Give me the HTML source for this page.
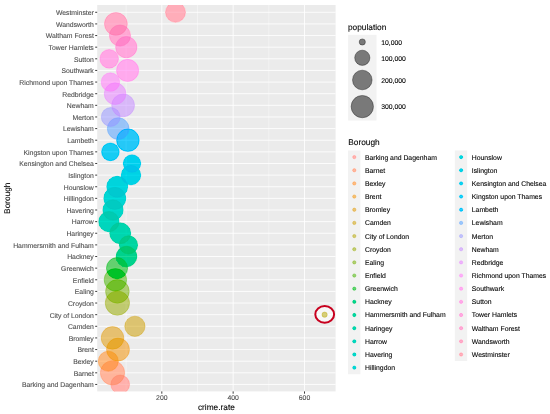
<!DOCTYPE html><html><head><meta charset="utf-8"><style>html,body{margin:0;padding:0;background:#fff;}svg{display:block;}text{font-family:"Liberation Sans",Arial,sans-serif;text-rendering:geometricPrecision;}.ax{font-size:6.85px;fill:#4D4D4D;stroke:#4D4D4D;stroke-width:0.1px}.lt{font-size:6.85px;fill:#000;stroke:#000;stroke-width:0.1px}.ti{font-size:8.3px;fill:#000;stroke:#000;stroke-width:0.1px}</style></head><body>
<svg width="550" height="414" viewBox="0 0 550 414">
<rect width="550" height="414" fill="#fff"/>
<defs><filter id="adobe" x="0" y="0" width="550" height="414" filterUnits="userSpaceOnUse" color-interpolation-filters="linearRGB"><feColorMatrix type="matrix" values="1.3982 -0.3982 0 0 0  0 1 0 0 0  0 -0.0429 1.0429 0 0  0 0 0 1 0"/></filter></defs>
<g filter="url(#adobe)">
<defs><clipPath id="pc"><rect x="97.2" y="5.0" width="238.40" height="386.40"/></clipPath></defs>
<rect x="97.2" y="5.0" width="238.40" height="386.40" fill="#EBEBEB"/>
<line x1="126.12" y1="5.0" x2="126.12" y2="391.4" stroke="#fff" stroke-width="0.4"/>
<line x1="197.48" y1="5.0" x2="197.48" y2="391.4" stroke="#fff" stroke-width="0.4"/>
<line x1="268.82" y1="5.0" x2="268.82" y2="391.4" stroke="#fff" stroke-width="0.4"/>
<line x1="97.2" y1="384.45" x2="335.6" y2="384.45" stroke="#fff" stroke-width="0.85"/>
<line x1="97.2" y1="372.82" x2="335.6" y2="372.82" stroke="#fff" stroke-width="0.85"/>
<line x1="97.2" y1="361.19" x2="335.6" y2="361.19" stroke="#fff" stroke-width="0.85"/>
<line x1="97.2" y1="349.56" x2="335.6" y2="349.56" stroke="#fff" stroke-width="0.85"/>
<line x1="97.2" y1="337.93" x2="335.6" y2="337.93" stroke="#fff" stroke-width="0.85"/>
<line x1="97.2" y1="326.30" x2="335.6" y2="326.30" stroke="#fff" stroke-width="0.85"/>
<line x1="97.2" y1="314.67" x2="335.6" y2="314.67" stroke="#fff" stroke-width="0.85"/>
<line x1="97.2" y1="303.04" x2="335.6" y2="303.04" stroke="#fff" stroke-width="0.85"/>
<line x1="97.2" y1="291.41" x2="335.6" y2="291.41" stroke="#fff" stroke-width="0.85"/>
<line x1="97.2" y1="279.78" x2="335.6" y2="279.78" stroke="#fff" stroke-width="0.85"/>
<line x1="97.2" y1="268.15" x2="335.6" y2="268.15" stroke="#fff" stroke-width="0.85"/>
<line x1="97.2" y1="256.52" x2="335.6" y2="256.52" stroke="#fff" stroke-width="0.85"/>
<line x1="97.2" y1="244.89" x2="335.6" y2="244.89" stroke="#fff" stroke-width="0.85"/>
<line x1="97.2" y1="233.26" x2="335.6" y2="233.26" stroke="#fff" stroke-width="0.85"/>
<line x1="97.2" y1="221.63" x2="335.6" y2="221.63" stroke="#fff" stroke-width="0.85"/>
<line x1="97.2" y1="210.00" x2="335.6" y2="210.00" stroke="#fff" stroke-width="0.85"/>
<line x1="97.2" y1="198.37" x2="335.6" y2="198.37" stroke="#fff" stroke-width="0.85"/>
<line x1="97.2" y1="186.74" x2="335.6" y2="186.74" stroke="#fff" stroke-width="0.85"/>
<line x1="97.2" y1="175.11" x2="335.6" y2="175.11" stroke="#fff" stroke-width="0.85"/>
<line x1="97.2" y1="163.48" x2="335.6" y2="163.48" stroke="#fff" stroke-width="0.85"/>
<line x1="97.2" y1="151.85" x2="335.6" y2="151.85" stroke="#fff" stroke-width="0.85"/>
<line x1="97.2" y1="140.22" x2="335.6" y2="140.22" stroke="#fff" stroke-width="0.85"/>
<line x1="97.2" y1="128.59" x2="335.6" y2="128.59" stroke="#fff" stroke-width="0.85"/>
<line x1="97.2" y1="116.96" x2="335.6" y2="116.96" stroke="#fff" stroke-width="0.85"/>
<line x1="97.2" y1="105.33" x2="335.6" y2="105.33" stroke="#fff" stroke-width="0.85"/>
<line x1="97.2" y1="93.70" x2="335.6" y2="93.70" stroke="#fff" stroke-width="0.85"/>
<line x1="97.2" y1="82.07" x2="335.6" y2="82.07" stroke="#fff" stroke-width="0.85"/>
<line x1="97.2" y1="70.44" x2="335.6" y2="70.44" stroke="#fff" stroke-width="0.85"/>
<line x1="97.2" y1="58.81" x2="335.6" y2="58.81" stroke="#fff" stroke-width="0.85"/>
<line x1="97.2" y1="47.18" x2="335.6" y2="47.18" stroke="#fff" stroke-width="0.85"/>
<line x1="97.2" y1="35.55" x2="335.6" y2="35.55" stroke="#fff" stroke-width="0.85"/>
<line x1="97.2" y1="23.92" x2="335.6" y2="23.92" stroke="#fff" stroke-width="0.85"/>
<line x1="97.2" y1="12.29" x2="335.6" y2="12.29" stroke="#fff" stroke-width="0.85"/>
<line x1="161.80" y1="5.0" x2="161.80" y2="391.4" stroke="#fff" stroke-width="0.85"/>
<line x1="233.15" y1="5.0" x2="233.15" y2="391.4" stroke="#fff" stroke-width="0.85"/>
<line x1="304.50" y1="5.0" x2="304.50" y2="391.4" stroke="#fff" stroke-width="0.85"/>
<ellipse cx="324.7" cy="314.4" rx="8.6" ry="7.5" fill="#fff" fill-opacity="0.6"/>
<g clip-path="url(#pc)">
<circle cx="120.2" cy="384.45" r="9.38" fill="#F8766D" fill-opacity="0.5" stroke="#F8766D" stroke-opacity="0.5" stroke-width="0.7"/>
<circle cx="112.5" cy="372.82" r="12.17" fill="#F07E4D" fill-opacity="0.5" stroke="#F07E4D" stroke-opacity="0.5" stroke-width="0.7"/>
<circle cx="108.3" cy="361.19" r="10.06" fill="#E78619" fill-opacity="0.5" stroke="#E78619" stroke-opacity="0.5" stroke-width="0.7"/>
<circle cx="118.0" cy="349.56" r="11.47" fill="#DB8E00" fill-opacity="0.5" stroke="#DB8E00" stroke-opacity="0.5" stroke-width="0.7"/>
<circle cx="112.5" cy="337.93" r="11.32" fill="#CE9500" fill-opacity="0.5" stroke="#CE9500" stroke-opacity="0.5" stroke-width="0.7"/>
<circle cx="134.9" cy="326.30" r="10.12" fill="#BF9C00" fill-opacity="0.5" stroke="#BF9C00" stroke-opacity="0.5" stroke-width="0.7"/>
<circle cx="324.6" cy="314.67" r="2.63" fill="#AEA200" fill-opacity="0.5" stroke="#AEA200" stroke-opacity="0.5" stroke-width="0.7"/>
<circle cx="117.4" cy="303.04" r="12.16" fill="#9AA800" fill-opacity="0.5" stroke="#9AA800" stroke-opacity="0.5" stroke-width="0.7"/>
<circle cx="117.4" cy="291.41" r="11.83" fill="#82AD00" fill-opacity="0.5" stroke="#82AD00" stroke-opacity="0.5" stroke-width="0.7"/>
<circle cx="115.4" cy="279.78" r="11.27" fill="#64B200" fill-opacity="0.5" stroke="#64B200" stroke-opacity="0.5" stroke-width="0.7"/>
<circle cx="117.05" cy="268.15" r="10.61" fill="#32B600" fill-opacity="0.5" stroke="#32B600" stroke-opacity="0.5" stroke-width="0.7"/>
<circle cx="126.5" cy="256.52" r="10.33" fill="#00BA38" fill-opacity="0.5" stroke="#00BA38" stroke-opacity="0.5" stroke-width="0.7"/>
<circle cx="128.5" cy="244.89" r="9.14" fill="#00BD5C" fill-opacity="0.5" stroke="#00BD5C" stroke-opacity="0.5" stroke-width="0.7"/>
<circle cx="120.2" cy="233.26" r="10.49" fill="#00BF78" fill-opacity="0.5" stroke="#00BF78" stroke-opacity="0.5" stroke-width="0.7"/>
<circle cx="108.9" cy="221.63" r="10.17" fill="#00C091" fill-opacity="0.5" stroke="#00C091" stroke-opacity="0.5" stroke-width="0.7"/>
<circle cx="113.0" cy="210.00" r="10.18" fill="#00C1A7" fill-opacity="0.5" stroke="#00C1A7" stroke-opacity="0.5" stroke-width="0.7"/>
<circle cx="114.8" cy="198.37" r="11.01" fill="#00C0BB" fill-opacity="0.5" stroke="#00C0BB" stroke-opacity="0.5" stroke-width="0.7"/>
<circle cx="117.2" cy="186.74" r="10.51" fill="#00BECD" fill-opacity="0.5" stroke="#00BECD" stroke-opacity="0.5" stroke-width="0.7"/>
<circle cx="131.0" cy="175.11" r="9.75" fill="#00BADE" fill-opacity="0.5" stroke="#00BADE" stroke-opacity="0.5" stroke-width="0.7"/>
<circle cx="132.0" cy="163.48" r="8.73" fill="#00B5ED" fill-opacity="0.5" stroke="#00B5ED" stroke-opacity="0.5" stroke-width="0.7"/>
<circle cx="110.4" cy="151.85" r="8.88" fill="#00AEF9" fill-opacity="0.5" stroke="#00AEF9" stroke-opacity="0.5" stroke-width="0.7"/>
<circle cx="127.9" cy="140.22" r="11.35" fill="#00A6FF" fill-opacity="0.5" stroke="#00A6FF" stroke-opacity="0.5" stroke-width="0.7"/>
<circle cx="118.2" cy="128.59" r="10.86" fill="#619CFF" fill-opacity="0.5" stroke="#619CFF" stroke-opacity="0.5" stroke-width="0.7"/>
<circle cx="110.7" cy="116.96" r="9.43" fill="#9191FF" fill-opacity="0.5" stroke="#9191FF" stroke-opacity="0.5" stroke-width="0.7"/>
<circle cx="123.1" cy="105.33" r="11.40" fill="#B385FF" fill-opacity="0.5" stroke="#B385FF" stroke-opacity="0.5" stroke-width="0.7"/>
<circle cx="115.1" cy="93.70" r="10.83" fill="#CD79FF" fill-opacity="0.5" stroke="#CD79FF" stroke-opacity="0.5" stroke-width="0.7"/>
<circle cx="110.4" cy="82.07" r="9.28" fill="#E16FF8" fill-opacity="0.5" stroke="#E16FF8" stroke-opacity="0.5" stroke-width="0.7"/>
<circle cx="127.6" cy="70.44" r="11.10" fill="#EF67EB" fill-opacity="0.5" stroke="#EF67EB" stroke-opacity="0.5" stroke-width="0.7"/>
<circle cx="109.2" cy="58.81" r="9.34" fill="#F962DB" fill-opacity="0.5" stroke="#F962DB" stroke-opacity="0.5" stroke-width="0.7"/>
<circle cx="126.3" cy="47.18" r="10.68" fill="#FF61CA" fill-opacity="0.5" stroke="#FF61CA" stroke-opacity="0.5" stroke-width="0.7"/>
<circle cx="120.0" cy="35.55" r="10.60" fill="#FF63B6" fill-opacity="0.5" stroke="#FF63B6" stroke-opacity="0.5" stroke-width="0.7"/>
<circle cx="115.9" cy="23.92" r="11.42" fill="#FF68A0" fill-opacity="0.5" stroke="#FF68A0" stroke-opacity="0.5" stroke-width="0.7"/>
<circle cx="175.5" cy="12.29" r="9.97" fill="#FD6F88" fill-opacity="0.5" stroke="#FD6F88" stroke-opacity="0.5" stroke-width="0.7"/>
</g>
<line x1="95.2" y1="384.45" x2="97.2" y2="384.45" stroke="#333" stroke-width="0.95"/>
<text x="93.8" y="387.30" class="ax" text-anchor="end">Barking and Dagenham</text>
<line x1="95.2" y1="372.82" x2="97.2" y2="372.82" stroke="#333" stroke-width="0.95"/>
<text x="93.8" y="375.67" class="ax" text-anchor="end">Barnet</text>
<line x1="95.2" y1="361.19" x2="97.2" y2="361.19" stroke="#333" stroke-width="0.95"/>
<text x="93.8" y="364.04" class="ax" text-anchor="end">Bexley</text>
<line x1="95.2" y1="349.56" x2="97.2" y2="349.56" stroke="#333" stroke-width="0.95"/>
<text x="93.8" y="352.41" class="ax" text-anchor="end">Brent</text>
<line x1="95.2" y1="337.93" x2="97.2" y2="337.93" stroke="#333" stroke-width="0.95"/>
<text x="93.8" y="340.78" class="ax" text-anchor="end">Bromley</text>
<line x1="95.2" y1="326.30" x2="97.2" y2="326.30" stroke="#333" stroke-width="0.95"/>
<text x="93.8" y="329.15" class="ax" text-anchor="end">Camden</text>
<line x1="95.2" y1="314.67" x2="97.2" y2="314.67" stroke="#333" stroke-width="0.95"/>
<text x="93.8" y="317.52" class="ax" text-anchor="end">City of London</text>
<line x1="95.2" y1="303.04" x2="97.2" y2="303.04" stroke="#333" stroke-width="0.95"/>
<text x="93.8" y="305.89" class="ax" text-anchor="end">Croydon</text>
<line x1="95.2" y1="291.41" x2="97.2" y2="291.41" stroke="#333" stroke-width="0.95"/>
<text x="93.8" y="294.26" class="ax" text-anchor="end">Ealing</text>
<line x1="95.2" y1="279.78" x2="97.2" y2="279.78" stroke="#333" stroke-width="0.95"/>
<text x="93.8" y="282.63" class="ax" text-anchor="end">Enfield</text>
<line x1="95.2" y1="268.15" x2="97.2" y2="268.15" stroke="#333" stroke-width="0.95"/>
<text x="93.8" y="271.00" class="ax" text-anchor="end">Greenwich</text>
<line x1="95.2" y1="256.52" x2="97.2" y2="256.52" stroke="#333" stroke-width="0.95"/>
<text x="93.8" y="259.37" class="ax" text-anchor="end">Hackney</text>
<line x1="95.2" y1="244.89" x2="97.2" y2="244.89" stroke="#333" stroke-width="0.95"/>
<text x="93.8" y="247.74" class="ax" text-anchor="end">Hammersmith and Fulham</text>
<line x1="95.2" y1="233.26" x2="97.2" y2="233.26" stroke="#333" stroke-width="0.95"/>
<text x="93.8" y="236.11" class="ax" text-anchor="end">Haringey</text>
<line x1="95.2" y1="221.63" x2="97.2" y2="221.63" stroke="#333" stroke-width="0.95"/>
<text x="93.8" y="224.48" class="ax" text-anchor="end">Harrow</text>
<line x1="95.2" y1="210.00" x2="97.2" y2="210.00" stroke="#333" stroke-width="0.95"/>
<text x="93.8" y="212.85" class="ax" text-anchor="end">Havering</text>
<line x1="95.2" y1="198.37" x2="97.2" y2="198.37" stroke="#333" stroke-width="0.95"/>
<text x="93.8" y="201.22" class="ax" text-anchor="end">Hillingdon</text>
<line x1="95.2" y1="186.74" x2="97.2" y2="186.74" stroke="#333" stroke-width="0.95"/>
<text x="93.8" y="189.59" class="ax" text-anchor="end">Hounslow</text>
<line x1="95.2" y1="175.11" x2="97.2" y2="175.11" stroke="#333" stroke-width="0.95"/>
<text x="93.8" y="177.96" class="ax" text-anchor="end">Islington</text>
<line x1="95.2" y1="163.48" x2="97.2" y2="163.48" stroke="#333" stroke-width="0.95"/>
<text x="93.8" y="166.33" class="ax" text-anchor="end">Kensington and Chelsea</text>
<line x1="95.2" y1="151.85" x2="97.2" y2="151.85" stroke="#333" stroke-width="0.95"/>
<text x="93.8" y="154.70" class="ax" text-anchor="end">Kingston upon Thames</text>
<line x1="95.2" y1="140.22" x2="97.2" y2="140.22" stroke="#333" stroke-width="0.95"/>
<text x="93.8" y="143.07" class="ax" text-anchor="end">Lambeth</text>
<line x1="95.2" y1="128.59" x2="97.2" y2="128.59" stroke="#333" stroke-width="0.95"/>
<text x="93.8" y="131.44" class="ax" text-anchor="end">Lewisham</text>
<line x1="95.2" y1="116.96" x2="97.2" y2="116.96" stroke="#333" stroke-width="0.95"/>
<text x="93.8" y="119.81" class="ax" text-anchor="end">Merton</text>
<line x1="95.2" y1="105.33" x2="97.2" y2="105.33" stroke="#333" stroke-width="0.95"/>
<text x="93.8" y="108.18" class="ax" text-anchor="end">Newham</text>
<line x1="95.2" y1="93.70" x2="97.2" y2="93.70" stroke="#333" stroke-width="0.95"/>
<text x="93.8" y="96.55" class="ax" text-anchor="end">Redbridge</text>
<line x1="95.2" y1="82.07" x2="97.2" y2="82.07" stroke="#333" stroke-width="0.95"/>
<text x="93.8" y="84.92" class="ax" text-anchor="end">Richmond upon Thames</text>
<line x1="95.2" y1="70.44" x2="97.2" y2="70.44" stroke="#333" stroke-width="0.95"/>
<text x="93.8" y="73.29" class="ax" text-anchor="end">Southwark</text>
<line x1="95.2" y1="58.81" x2="97.2" y2="58.81" stroke="#333" stroke-width="0.95"/>
<text x="93.8" y="61.66" class="ax" text-anchor="end">Sutton</text>
<line x1="95.2" y1="47.18" x2="97.2" y2="47.18" stroke="#333" stroke-width="0.95"/>
<text x="93.8" y="50.03" class="ax" text-anchor="end">Tower Hamlets</text>
<line x1="95.2" y1="35.55" x2="97.2" y2="35.55" stroke="#333" stroke-width="0.95"/>
<text x="93.8" y="38.40" class="ax" text-anchor="end">Waltham Forest</text>
<line x1="95.2" y1="23.92" x2="97.2" y2="23.92" stroke="#333" stroke-width="0.95"/>
<text x="93.8" y="26.77" class="ax" text-anchor="end">Wandsworth</text>
<line x1="95.2" y1="12.29" x2="97.2" y2="12.29" stroke="#333" stroke-width="0.95"/>
<text x="93.8" y="15.14" class="ax" text-anchor="end">Westminster</text>
<line x1="161.80" y1="391.4" x2="161.80" y2="393.7" stroke="#333" stroke-width="0.95"/>
<text x="161.80" y="400.1" class="ax" text-anchor="middle">200</text>
<line x1="233.15" y1="391.4" x2="233.15" y2="393.7" stroke="#333" stroke-width="0.95"/>
<text x="233.15" y="400.1" class="ax" text-anchor="middle">400</text>
<line x1="304.50" y1="391.4" x2="304.50" y2="393.7" stroke="#333" stroke-width="0.95"/>
<text x="304.50" y="400.1" class="ax" text-anchor="middle">600</text>
<text x="216.40" y="410" class="ti" text-anchor="middle">crime.rate</text>
<text transform="translate(10.3,198.20) rotate(-90)" class="ti" text-anchor="middle">Borough</text>
<text x="348" y="29.5" class="ti">population</text>
<rect x="348.1" y="34.8" width="28.4" height="85.7" fill="#F2F2F2"/>
<circle cx="362.3" cy="42.0" r="3.10" fill="#000" fill-opacity="0.5" stroke="#000" stroke-opacity="0.5" stroke-width="0.7"/>
<text x="381.2" y="44.75" class="lt">10,000</text>
<circle cx="362.3" cy="57.8" r="7.60" fill="#000" fill-opacity="0.5" stroke="#000" stroke-opacity="0.5" stroke-width="0.7"/>
<text x="381.2" y="60.55" class="lt">100,000</text>
<circle cx="362.3" cy="80.0" r="9.80" fill="#000" fill-opacity="0.5" stroke="#000" stroke-opacity="0.5" stroke-width="0.7"/>
<text x="381.2" y="82.75" class="lt">200,000</text>
<circle cx="362.3" cy="106.6" r="11.15" fill="#000" fill-opacity="0.5" stroke="#000" stroke-opacity="0.5" stroke-width="0.7"/>
<text x="381.2" y="109.35" class="lt">300,000</text>
<text x="348.3" y="145" class="ti">Borough</text>
<rect x="348.0" y="150.5" width="12.4" height="223.72" fill="#F2F2F2"/>
<circle cx="354.30" cy="157.10" r="1.65" fill="#F8766D" fill-opacity="0.5" stroke="#F8766D" stroke-opacity="0.5" stroke-width="0.7"/>
<text x="365.00" y="159.55" class="lt">Barking and Dagenham</text>
<circle cx="354.30" cy="170.26" r="1.65" fill="#F07E4D" fill-opacity="0.5" stroke="#F07E4D" stroke-opacity="0.5" stroke-width="0.7"/>
<text x="365.00" y="172.71" class="lt">Barnet</text>
<circle cx="354.30" cy="183.42" r="1.65" fill="#E78619" fill-opacity="0.5" stroke="#E78619" stroke-opacity="0.5" stroke-width="0.7"/>
<text x="365.00" y="185.87" class="lt">Bexley</text>
<circle cx="354.30" cy="196.58" r="1.65" fill="#DB8E00" fill-opacity="0.5" stroke="#DB8E00" stroke-opacity="0.5" stroke-width="0.7"/>
<text x="365.00" y="199.03" class="lt">Brent</text>
<circle cx="354.30" cy="209.74" r="1.65" fill="#CE9500" fill-opacity="0.5" stroke="#CE9500" stroke-opacity="0.5" stroke-width="0.7"/>
<text x="365.00" y="212.19" class="lt">Bromley</text>
<circle cx="354.30" cy="222.90" r="1.65" fill="#BF9C00" fill-opacity="0.5" stroke="#BF9C00" stroke-opacity="0.5" stroke-width="0.7"/>
<text x="365.00" y="225.35" class="lt">Camden</text>
<circle cx="354.30" cy="236.06" r="1.65" fill="#AEA200" fill-opacity="0.5" stroke="#AEA200" stroke-opacity="0.5" stroke-width="0.7"/>
<text x="365.00" y="238.51" class="lt">City of London</text>
<circle cx="354.30" cy="249.22" r="1.65" fill="#9AA800" fill-opacity="0.5" stroke="#9AA800" stroke-opacity="0.5" stroke-width="0.7"/>
<text x="365.00" y="251.67" class="lt">Croydon</text>
<circle cx="354.30" cy="262.38" r="1.65" fill="#82AD00" fill-opacity="0.5" stroke="#82AD00" stroke-opacity="0.5" stroke-width="0.7"/>
<text x="365.00" y="264.83" class="lt">Ealing</text>
<circle cx="354.30" cy="275.54" r="1.65" fill="#64B200" fill-opacity="0.5" stroke="#64B200" stroke-opacity="0.5" stroke-width="0.7"/>
<text x="365.00" y="277.99" class="lt">Enfield</text>
<circle cx="354.30" cy="288.70" r="1.65" fill="#32B600" fill-opacity="0.5" stroke="#32B600" stroke-opacity="0.5" stroke-width="0.7"/>
<text x="365.00" y="291.15" class="lt">Greenwich</text>
<circle cx="354.30" cy="301.86" r="1.65" fill="#00BA38" fill-opacity="0.5" stroke="#00BA38" stroke-opacity="0.5" stroke-width="0.7"/>
<text x="365.00" y="304.31" class="lt">Hackney</text>
<circle cx="354.30" cy="315.02" r="1.65" fill="#00BD5C" fill-opacity="0.5" stroke="#00BD5C" stroke-opacity="0.5" stroke-width="0.7"/>
<text x="365.00" y="317.47" class="lt">Hammersmith and Fulham</text>
<circle cx="354.30" cy="328.18" r="1.65" fill="#00BF78" fill-opacity="0.5" stroke="#00BF78" stroke-opacity="0.5" stroke-width="0.7"/>
<text x="365.00" y="330.63" class="lt">Haringey</text>
<circle cx="354.30" cy="341.34" r="1.65" fill="#00C091" fill-opacity="0.5" stroke="#00C091" stroke-opacity="0.5" stroke-width="0.7"/>
<text x="365.00" y="343.79" class="lt">Harrow</text>
<circle cx="354.30" cy="354.50" r="1.65" fill="#00C1A7" fill-opacity="0.5" stroke="#00C1A7" stroke-opacity="0.5" stroke-width="0.7"/>
<text x="365.00" y="356.95" class="lt">Havering</text>
<circle cx="354.30" cy="367.66" r="1.65" fill="#00C0BB" fill-opacity="0.5" stroke="#00C0BB" stroke-opacity="0.5" stroke-width="0.7"/>
<text x="365.00" y="370.11" class="lt">Hillingdon</text>
<rect x="454.8" y="150.5" width="12.4" height="210.56" fill="#F2F2F2"/>
<circle cx="461.10" cy="157.10" r="1.65" fill="#00BECD" fill-opacity="0.5" stroke="#00BECD" stroke-opacity="0.5" stroke-width="0.7"/>
<text x="471.80" y="159.55" class="lt">Hounslow</text>
<circle cx="461.10" cy="170.26" r="1.65" fill="#00BADE" fill-opacity="0.5" stroke="#00BADE" stroke-opacity="0.5" stroke-width="0.7"/>
<text x="471.80" y="172.71" class="lt">Islington</text>
<circle cx="461.10" cy="183.42" r="1.65" fill="#00B5ED" fill-opacity="0.5" stroke="#00B5ED" stroke-opacity="0.5" stroke-width="0.7"/>
<text x="471.80" y="185.87" class="lt">Kensington and Chelsea</text>
<circle cx="461.10" cy="196.58" r="1.65" fill="#00AEF9" fill-opacity="0.5" stroke="#00AEF9" stroke-opacity="0.5" stroke-width="0.7"/>
<text x="471.80" y="199.03" class="lt">Kingston upon Thames</text>
<circle cx="461.10" cy="209.74" r="1.65" fill="#00A6FF" fill-opacity="0.5" stroke="#00A6FF" stroke-opacity="0.5" stroke-width="0.7"/>
<text x="471.80" y="212.19" class="lt">Lambeth</text>
<circle cx="461.10" cy="222.90" r="1.65" fill="#619CFF" fill-opacity="0.5" stroke="#619CFF" stroke-opacity="0.5" stroke-width="0.7"/>
<text x="471.80" y="225.35" class="lt">Lewisham</text>
<circle cx="461.10" cy="236.06" r="1.65" fill="#9191FF" fill-opacity="0.5" stroke="#9191FF" stroke-opacity="0.5" stroke-width="0.7"/>
<text x="471.80" y="238.51" class="lt">Merton</text>
<circle cx="461.10" cy="249.22" r="1.65" fill="#B385FF" fill-opacity="0.5" stroke="#B385FF" stroke-opacity="0.5" stroke-width="0.7"/>
<text x="471.80" y="251.67" class="lt">Newham</text>
<circle cx="461.10" cy="262.38" r="1.65" fill="#CD79FF" fill-opacity="0.5" stroke="#CD79FF" stroke-opacity="0.5" stroke-width="0.7"/>
<text x="471.80" y="264.83" class="lt">Redbridge</text>
<circle cx="461.10" cy="275.54" r="1.65" fill="#E16FF8" fill-opacity="0.5" stroke="#E16FF8" stroke-opacity="0.5" stroke-width="0.7"/>
<text x="471.80" y="277.99" class="lt">Richmond upon Thames</text>
<circle cx="461.10" cy="288.70" r="1.65" fill="#EF67EB" fill-opacity="0.5" stroke="#EF67EB" stroke-opacity="0.5" stroke-width="0.7"/>
<text x="471.80" y="291.15" class="lt">Southwark</text>
<circle cx="461.10" cy="301.86" r="1.65" fill="#F962DB" fill-opacity="0.5" stroke="#F962DB" stroke-opacity="0.5" stroke-width="0.7"/>
<text x="471.80" y="304.31" class="lt">Sutton</text>
<circle cx="461.10" cy="315.02" r="1.65" fill="#FF61CA" fill-opacity="0.5" stroke="#FF61CA" stroke-opacity="0.5" stroke-width="0.7"/>
<text x="471.80" y="317.47" class="lt">Tower Hamlets</text>
<circle cx="461.10" cy="328.18" r="1.65" fill="#FF63B6" fill-opacity="0.5" stroke="#FF63B6" stroke-opacity="0.5" stroke-width="0.7"/>
<text x="471.80" y="330.63" class="lt">Waltham Forest</text>
<circle cx="461.10" cy="341.34" r="1.65" fill="#FF68A0" fill-opacity="0.5" stroke="#FF68A0" stroke-opacity="0.5" stroke-width="0.7"/>
<text x="471.80" y="343.79" class="lt">Wandsworth</text>
<circle cx="461.10" cy="354.50" r="1.65" fill="#FD6F88" fill-opacity="0.5" stroke="#FD6F88" stroke-opacity="0.5" stroke-width="0.7"/>
<text x="471.80" y="356.95" class="lt">Westminster</text>
</g>
<ellipse cx="324.7" cy="314.4" rx="9.4" ry="8.3" fill="none" stroke="#C8001E" stroke-width="2"/>
</svg></body></html>
